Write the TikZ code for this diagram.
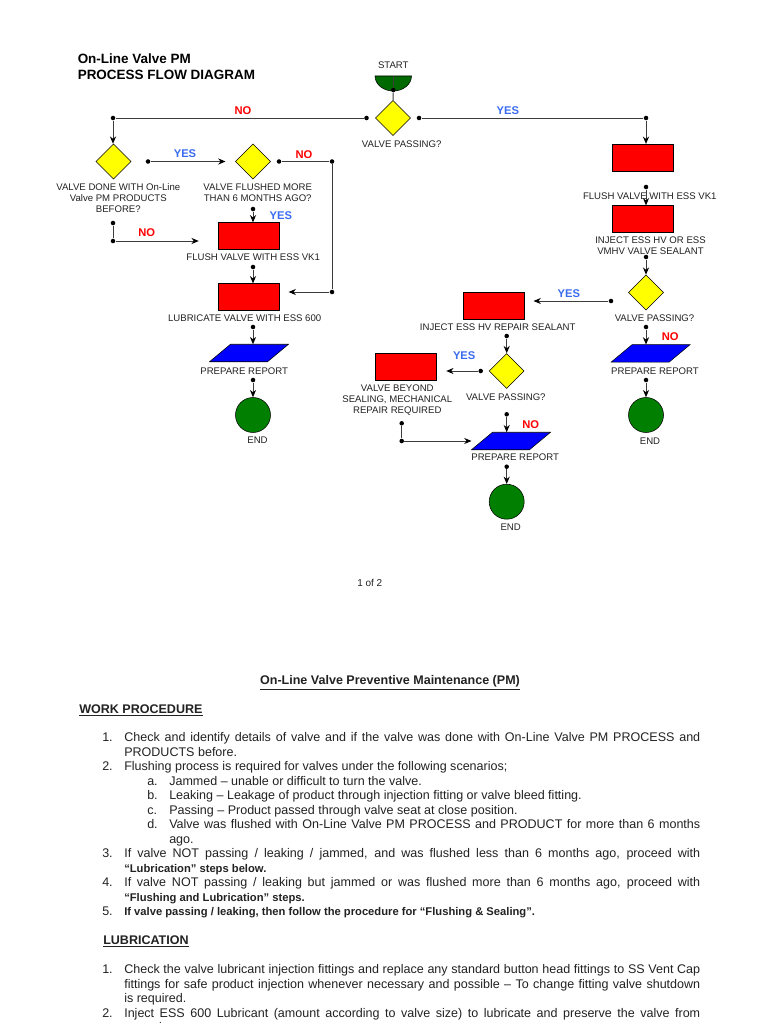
\documentclass[tikz,border=0pt]{standalone}
\usepackage{fontspec}
\setmainfont{Liberation Sans}
\usetikzlibrary{shapes.geometric,arrows.meta}
\definecolor{fred}{HTML}{FF0000}
\definecolor{fyel}{HTML}{FFFF00}
\definecolor{fblu}{HTML}{0000FF}
\definecolor{fgrn}{HTML}{007F00}
\definecolor{sgrn}{HTML}{006A00}
\definecolor{yesc}{HTML}{3A6CF0}
\definecolor{noc}{HTML}{FF0000}
\definecolor{linec}{HTML}{3C3C3C}
\definecolor{txtc}{HTML}{222222}
\newcommand\pgram[3]{%
  \coordinate (#1) at (#2,#3);
  \coordinate (#1n) at (#2,#3-8.75);
  \coordinate (#1w) at (#2-39.5,#3);
  \filldraw[fill=fblu,draw=black,line width=0.4pt]
    ([shift={(-18.5,-8.75)}]#1) -- ++(58,0) -- ++(-21,17.5) -- ++(-58,0) -- cycle;}
\newcommand\bodyline[4]{\node[body] (#1) at (#2,#3) {#4};}
\newcommand\jline[5]{\node[body] (#1) at (#2,#3) {\makebox[#4][s]{#5}};}
\begin{document}
\begin{tikzpicture}[x=0.75pt,y=-0.75pt,
  dec/.style={diamond,draw=black,line width=0.4pt,fill=fyel,minimum width=26.25pt,minimum height=26.25pt,inner sep=0pt},
  proc/.style={rectangle,draw=black,line width=0.4pt,fill=fred,minimum width=45.75pt,minimum height=20pt,inner sep=0pt},
  term/.style={circle,draw=black,line width=0.4pt,fill=fgrn,minimum size=26.25pt,inner sep=0pt},
  dot/.style={circle,fill=black,inner sep=0pt,minimum size=3.4pt},
  lbl/.style={font=\fontsize{7.2}{8}\selectfont,text=txtc,inner sep=0pt,text height=5.2pt,text depth=0pt},
  yes/.style={font=\fontsize{8.4}{9}\selectfont\bfseries,text=yesc,inner sep=0pt,text height=6pt,text depth=0pt},
  no/.style={font=\fontsize{8.4}{9}\selectfont\bfseries,text=noc,inner sep=0pt,text height=6pt,text depth=0pt},
  conn/.style={draw=linec,line width=0.75pt},
  arr/.style={conn,-{Stealth[length=5.5pt,width=4.6pt,color=black]}},
  body/.style={font=\fontsize{9.4}{11}\selectfont,text=txtc,inner sep=0pt,anchor=base west},
  bbody/.style={body,font=\fontsize{8.4}{10}\selectfont\bfseries},
  head/.style={font=\fontsize{9.4}{11}\selectfont\bfseries,text=txtc,inner sep=0pt,anchor=base west},
  title/.style={font=\fontsize{10.1}{12}\selectfont\bfseries,text=black,inner sep=0pt,anchor=base west}]
\useasboundingbox (0,0) rectangle (768,1024);
\fill[white] (0,0) rectangle (768,1024);
\clip (0,0) rectangle (768,1024);

% ---------- title ----------
\node[title] (t1) at (77.5,63.8) {On-Line Valve PM};
\node[title] (t2) at (77.5,79.8) {PROCESS FLOW DIAGRAM};

% ---------- start ----------
\node[lbl] (startlbl) at (393.3,65) {START};
\filldraw[fill=sgrn,draw=black,line width=0.4pt] (375,76) -- (411.5,76)
  arc[start angle=0,end angle=180,x radius=18.25,y radius=15] -- cycle;
\coordinate (st) at (393.3,76);
\node[dot] (s0) at (393.3,90) {};

% ---------- flowchart nodes ----------
\node[dec] (d0) at (393,118) {};
\node[dot] (l0) at (366.5,118) {};
\node[dot] (r0) at (419,118) {};
\node[dot] (a) at (113,118) {};
\node[dot] (b) at (646,118) {};

\node[dec] (d1) at (113.5,161.5) {};
\node[dec] (d2) at (253,161.5) {};
\node[dot] (d1r) at (148,161.5) {};
\node[dot] (d2r) at (279,161.5) {};
\node[dot] (c) at (332,161.5) {};
\node[dot] (dd) at (332,292) {};
\node[dot] (e) at (253,209) {};
\node[dot] (f) at (113,223) {};
\node[dot] (g) at (113,241) {};
\node[proc] (r1) at (249,236) {};
\node[proc] (r2) at (249,297) {};
\node[dot] (h) at (253,267) {};
\node[dot] (i) at (253,327) {};
\pgram{p1}{249}{353}
\node[dot] (j) at (253,380) {};
\node[term] (c1) at (253,415) {};

\node[proc] (r3) at (642.5,157.5) {};
\node[dot] (k) at (646,187) {};
\node[proc] (r4) at (642.5,219) {};
\node[dot] (l) at (646,257) {};
\node[dec] (d3) at (646,292.5) {};
\node[dot] (m) at (611,301) {};
\node[proc] (r5) at (493.3,306) {};
\node[dot] (n) at (646,327) {};
\pgram{p2}{650.7}{353.3}
\node[dot] (o) at (646,380) {};
\node[term] (c2) at (646,415) {};

\node[dot] (p) at (506.7,336) {};
\node[dec] (d4) at (506.7,371) {};
\node[dot] (q) at (480.7,371) {};
\node[proc] (r6) at (406,366.7) {};
\node[dot] (rr) at (506.7,414.3) {};
\pgram{p3}{511}{441}
\node[dot] (s) at (401.7,423.3) {};
\node[dot] (t) at (401.7,441) {};
\node[dot] (u) at (506.7,466.7) {};
\node[term] (c3) at (506.7,501.7) {};

% ---------- connectors ----------
\draw[conn] (st) -- (s0);
\draw[conn] (s0) -- (d0.north);
\draw[conn] (l0) -- (a);
\draw[arr] (a) -- (a |- d1.north);
\draw[conn] (r0) -- (b);
\draw[arr] (b) -- (b |- r3.north);
\draw[arr,shorten >=7.3pt] (d1r) -- (d2.west);
\draw[conn] (d2r) -- (c);
\draw[conn] (c) -- (dd);
\draw[arr,shorten >=6.6pt] (dd) -- (dd -| r2.east);
\draw[arr] (e) -- (e |- r1.north);
\draw[conn] (f) -- (g);
\draw[arr,shorten >=14.6pt] (g) -- (g -| r1.west);
\draw[arr] (h) -- (h |- r2.north);
\draw[arr] (i) -- (i |- p1n);
\draw[arr] (j) -- (c1.north);
\draw[arr] (k) -- (k |- r4.north);
\draw[arr] (l) -- (d3.north);
\draw[arr,shorten >=7.1pt] (m) -- (m -| r5.east);
\draw[arr] (n) -- (n |- p2n);
\draw[arr] (o) -- (c2.north);
\draw[arr] (p) -- (d4.north);
\draw[arr,shorten >=7.1pt] (q) -- (q -| r6.east);
\draw[arr] (rr) -- (rr |- p3n);
\draw[conn] (s) -- (t);
\draw[arr] (t) -- (t -| p3w);
\draw[arr] (u) -- (c3.north);

% ---------- yes / no ----------
\node[no] (no1) at (243,110.5) {NO};
\node[yes] (yes1) at (507.8,110) {YES};
\node[yes] (yes2) at (185,153.7) {YES};
\node[no] (no2) at (304,154) {NO};
\node[yes] (yes3) at (280.8,215) {YES};
\node[no] (no3) at (146.7,232.3) {NO};
\node[yes] (yes4) at (568.8,293.3) {YES};
\node[no] (no4) at (670.3,336.7) {NO};
\node[yes] (yes5) at (464.2,355) {YES};
\node[no] (no5) at (530.8,424.3) {NO};

% ---------- labels ----------
\node[lbl] (ld0) at (401.7,144.3) {VALVE PASSING?};
\node[lbl] (ld1a) at (118.3,187.3) {VALVE DONE WITH On-Line};
\node[lbl] (ld1b) at (118.3,198.3) {Valve PM PRODUCTS};
\node[lbl] (ld1c) at (118.3,209.3) {BEFORE?};
\node[lbl] (ld2a) at (257.7,187.3) {VALVE FLUSHED MORE};
\node[lbl] (ld2b) at (257.7,198.3) {THAN 6 MONTHS AGO?};
\node[lbl] (lr1) at (253.2,257.3) {FLUSH VALVE WITH ESS VK1};
\node[lbl] (lr2) at (244.7,318) {LUBRICATE VALVE WITH ESS 600};
\node[lbl] (lp1) at (244.2,370.7) {PREPARE REPORT};
\node[lbl] (lc1) at (257.5,440) {END};
\node[lbl] (lr3) at (649.8,195.7) {FLUSH VALVE WITH ESS VK1};
\node[lbl] (lr4a) at (650.5,240) {INJECT ESS HV OR ESS};
\node[lbl] (lr4b) at (650.5,251) {VMHV VALVE SEALANT};
\node[lbl] (ld3) at (654.5,318.3) {VALVE PASSING?};
\node[lbl] (lp2) at (655,370.7) {PREPARE REPORT};
\node[lbl] (lc2) at (650,440.7) {END};
\node[lbl] (lr5) at (497.7,327.3) {INJECT ESS HV REPAIR SEALANT};
\node[lbl] (lr6a) at (397.3,387.7) {VALVE BEYOND};
\node[lbl] (lr6b) at (397.3,399) {SEALING, MECHANICAL};
\node[lbl] (lr6c) at (397.3,410) {REPAIR REQUIRED};
\node[lbl] (ld4) at (505.8,396.7) {VALVE PASSING?};
\node[lbl] (lp3) at (515.2,457.3) {PREPARE REPORT};
\node[lbl] (lc3) at (510.7,527.3) {END};

\node[font=\fontsize{7.5}{9}\selectfont,text=txtc,inner sep=0pt,text height=5.4pt,text depth=0pt] (pg) at (369.8,582.7) {1 of 2};

% ---------- document text ----------
\node[head,anchor=base] (h0) at (390,684.5) {\underline{On-Line Valve Preventive Maintenance (PM)}};
\node[head] (h1) at (79,713.5) {\underline{WORK PROCEDURE}};

\bodyline{n1}{102}{741.5}{1.}
\jline{b1}{124}{741.5}{432pt}{Check and identify details of valve and if the valve was done with On-Line Valve PM PROCESS and}
\bodyline{b2}{124}{756}{PRODUCTS before.}
\bodyline{n2}{102}{770.5}{2.}
\bodyline{b3}{124}{770.5}{Flushing process is required for valves under the following scenarios;}
\bodyline{na}{147}{785}{a.}
\bodyline{b4}{169}{785}{Jammed -- unable or difficult to turn the valve.}
\bodyline{nb}{147}{799.5}{b.}
\bodyline{b5}{169}{799.5}{Leaking -- Leakage of product through injection fitting or valve bleed fitting.}
\bodyline{nc}{147}{814}{c.}
\bodyline{b6}{169}{814}{Passing -- Product passed through valve seat at close position.}
\bodyline{nd}{147}{828.5}{d.}
\jline{b7}{169}{828.5}{398.25pt}{Valve was flushed with On-Line Valve PM PROCESS and PRODUCT for more than 6 months}
\bodyline{b8}{169}{843}{ago.}
\bodyline{n3}{102}{857.5}{3.}
\jline{b9}{124}{857.5}{432pt}{If valve NOT passing / leaking / jammed, and was flushed less than 6 months ago, proceed with}
\node[bbody] (b10) at (124,872) {``Lubrication'' steps below.};
\bodyline{n4}{102}{886.5}{4.}
\jline{b11}{124}{886.5}{432pt}{If valve NOT passing / leaking but jammed or was flushed more than 6 months ago, proceed with}
\node[bbody] (b12) at (124,901) {``Flushing and Lubrication'' steps.};
\bodyline{n5}{102}{915.5}{5.}
\node[bbody] (b13) at (124,915.5) {If valve passing / leaking, then follow the procedure for ``Flushing \& Sealing''.};

\node[head] (h2) at (103,944.5) {\underline{LUBRICATION}};
\bodyline{m1}{102}{973.5}{1.}
\jline{b14}{124}{973.5}{432pt}{Check the valve lubricant injection fittings and replace any standard button head fittings to SS Vent Cap}
\jline{b15}{124}{988}{432pt}{fittings for safe product injection whenever necessary and possible -- To change fitting valve shutdown}
\bodyline{b16}{124}{1002.5}{is required.}
\bodyline{m2}{102}{1017}{2.}
\jline{b17}{124}{1017}{432pt}{Inject ESS 600 Lubricant (amount according to valve size) to lubricate and preserve the valve from}
\bodyline{b18}{124}{1031.5}{corrosion.}
\end{tikzpicture}
\end{document}
